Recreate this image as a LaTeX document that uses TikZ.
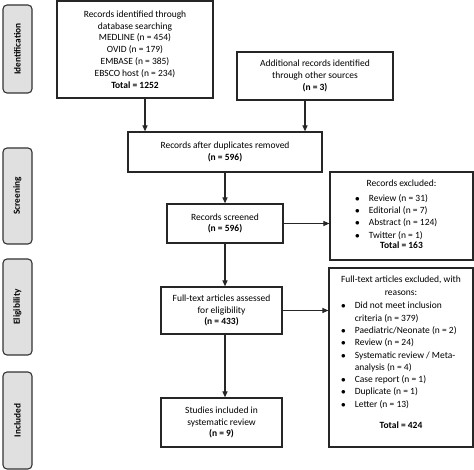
\documentclass[tikz,border=0pt]{standalone}
\usepackage{fontspec}
\setmainfont{Carlito}
\usetikzlibrary{arrows.meta,calc}
\begin{document}
\begin{tikzpicture}[x=1pt,y=-1pt,
  box/.style={draw=black!85,line width=1.2pt,fill=white,align=center,inner sep=0pt,font=\fontsize{9.5}{11.8}\selectfont},
  phase/.style={draw=black!80,line width=1.1pt,fill=black!12,rounded corners=4pt,inner sep=0pt,
     minimum width=29pt},
  ptext/.style={rotate=90,font=\bfseries\fontsize{9.3}{11}\selectfont},
  arr/.style={line width=1.1pt,draw=black!85,-{Triangle[length=6pt,width=5pt]}},
  blist/.style={align=left,inner sep=0pt,font=\fontsize{9.5}{12.3}\selectfont}]
\useasboundingbox (0,0) rectangle (474,470);
% phase labels
\node[phase,minimum height=88pt] (pid) at (17.5,49) {};
\node[ptext] (pidt) at (pid.center) {Identification};
\node[phase,minimum height=96pt] (pscr) at (17.5,196) {};
\node[ptext] (pscrt) at (pscr.center) {Screening};
\node[phase,minimum height=96pt] (pel) at (17.5,307) {};
\node[ptext] (pelt) at (pel.center) {Eligibility};
\node[phase,minimum height=97pt] (pinc) at (17.5,420.5) {};
\node[ptext] (pinct) at (pinc.center) {Included};
% boxes
\node[box,minimum width=156pt,minimum height=97pt] (id) at (135,49.5) {Records identified through\\database searching\\MEDLINE (n = 454)\\OVID (n = 179)\\EMBASE (n = 385)\\EBSCO host (n = 234)\\\textbf{Total = 1252}};
\node[box,minimum width=156pt,minimum height=48pt] (add) at (315,76) {Additional records identified\\through other sources\\\textbf{(n = 3)}};
\node[box,minimum width=194pt,minimum height=40pt] (dup) at (225,152) {Records after duplicates removed\\\textbf{(n = 596)}};
\node[box,minimum width=116pt,minimum height=39pt] (scr) at (225,223.5) {Records screened\\\textbf{(n = 596)}};
\node[box,minimum width=143pt,minimum height=88pt] (exa) at (401.5,216) {};
\node[box,minimum width=121pt,minimum height=47pt] (full) at (221.5,310.5) {Full-text articles assessed\\for eligibility\\\textbf{(n = 433)}};
\node[box,minimum width=144pt,minimum height=179pt] (exb) at (401,357.5) {};
\node[box,minimum width=121pt,minimum height=49pt] (inc) at (221.5,422.5) {Studies included in\\systematic review\\\textbf{(n = 9)}};
% contents of exclusion boxes
\node[blist,anchor=north] (exat) at (401.5,180) {Records excluded:};
\node[blist,anchor=north west] (exal) at (355,192.5) {\begin{tabular}{@{}l@{\hspace{9pt}}l@{}}
$\bullet$ & Review (n = 31)\\
$\bullet$ & Editorial (n = 7)\\
$\bullet$ & Abstract (n = 124)\\
$\bullet$ & Twitter (n = 1)
\end{tabular}};
\node[blist,anchor=north] (exatot) at (401.5,242) {\textbf{Total = 163}};
\node[blist,anchor=north,align=center] (exbt) at (401,276) {Full-text articles excluded, with\\reasons:};
\node[blist,anchor=north west] (exbl) at (341,300) {\begin{tabular}{@{}l@{\hspace{9pt}}l@{}}
$\bullet$ & Did not meet inclusion\\
 & criteria (n = 379)\\
$\bullet$ & Paediatric/Neonate (n = 2)\\
$\bullet$ & Review (n = 24)\\
$\bullet$ & Systematic review / Meta-\\
 & analysis (n = 4)\\
$\bullet$ & Case report (n = 1)\\
$\bullet$ & Duplicate (n = 1)\\
$\bullet$ & Letter (n = 13)
\end{tabular}};
\node[blist,anchor=north] (exbtot) at (401,422) {\textbf{Total = 424}};
% arrows
\draw[arr] ([xshift=10pt]id.south) -- ([xshift=10pt]id.south |- dup.north);
\draw[arr] ([xshift=-10pt]add.south) -- ([xshift=-10pt]add.south |- dup.north);
\draw[arr] (dup.south) -- (scr.north);
\draw[arr] (scr.east) -- (scr.east -| exa.west);
\draw[arr] (scr.south) -- (scr.south |- full.north);
\draw[arr] (full.east) -- (full.east -| exb.west);
\draw[arr] (full.south -| scr.south) -- (inc.north -| scr.south);
\end{tikzpicture}
\end{document}
